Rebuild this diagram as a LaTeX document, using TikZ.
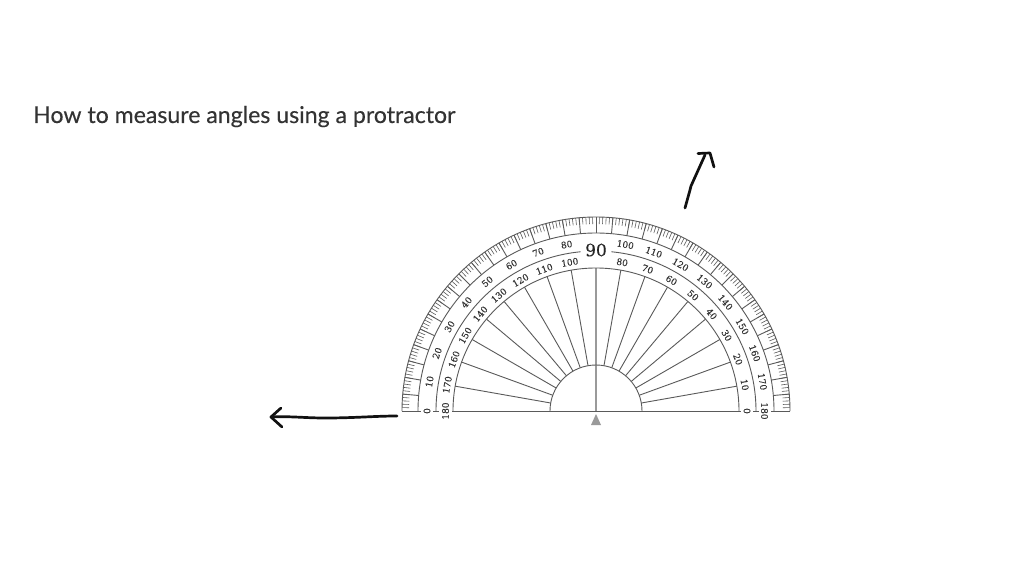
\documentclass[tikz,border=0pt]{standalone}
\usepackage{fontspec}
\setmainfont{Lato}[FakeBold=0.25]
\newfontfamily\scalefont{DejaVu Serif}[FakeBold=0.15]
\definecolor{rule}{HTML}{5A5A5A}
\definecolor{mid}{HTML}{9A9A9A}
\definecolor{ink}{HTML}{111111}
\definecolor{titleink}{HTML}{333333}
\tikzset{
  scaleline/.style={draw=rule,line width=0.9pt},
  tickline/.style={draw=rule,line width=0.6pt},
  deg/.style={font=\scalefont\fontsize{9}{10}\selectfont,text=black!80,inner sep=0.6pt},
  degend/.style={deg,fill=white,inner xsep=0.3pt,inner ysep=2.6pt},
  hand/.style={draw=ink,line width=2.7pt,line cap=round,line join=round},
}
\begin{document}
\begin{tikzpicture}[x=1pt,y=1pt]
\useasboundingbox (-596,-165) rectangle (428,411);
\fill[white] (-596,-165) rectangle (428,411);
% radial lines
\foreach \a in {10,20,...,170}{
  \ifnum\a=90\relax\else
    \draw[scaleline] (\a:46) -- (\a:143);
  \fi
}
\draw[draw=mid,line width=1.4pt] (0,0) -- (0,143);
% arcs
\draw[scaleline] (46pt,0pt) arc[start angle=0,end angle=180,radius=46pt];
\draw[scaleline] (143pt,0pt) arc[start angle=0,end angle=180,radius=143pt];
\draw[scaleline] (178pt,0pt) arc[start angle=0,end angle=180,radius=178pt];
\draw[scaleline] (194pt,0pt) arc[start angle=0,end angle=180,radius=194pt];
\draw[scaleline] (0:160) arc[start angle=0,end angle=84.5,radius=160pt];
\draw[scaleline] (95.5:160) arc[start angle=95.5,end angle=180,radius=160pt];
% ticks
\foreach \a in {1,...,179}{
  \draw[tickline] (\a:187) -- (\a:194);
}
\foreach \a in {5,10,...,175}{
  \draw[scaleline] (\a:178) -- (\a:194);
}
% baseline
\draw[scaleline] (-194,0) -- (194,0);
% labels
\foreach \v in {10,20,...,80,100,110,...,170}{
  \pgfmathsetmacro{\ang}{180-\v}
  \pgfmathsetmacro{\rot}{90-\v}
  \node[deg,rotate=\rot] (outer\v) at (\ang:169) {\v};
}
\foreach \v in {10,20,...,80,100,110,...,170}{
  \pgfmathsetmacro{\rot}{\v-90}
  \node[deg,rotate=\rot] (inner\v) at (\v:151) {\v};
}
\node[degend,rotate=90] (outerzero) at (180:169) {0};
\node[degend,rotate=90] (innerend) at (180:150.5) {180};
\node[degend,rotate=-90] (innerzero) at (0:151) {0};
\node[degend,rotate=-90] (outerend) at (0:168.5) {180};
\node[font=\scalefont\fontsize{17}{18}\selectfont,text=black!85,inner sep=0pt] (ninety) at (0,161) {90};
% pointer
\fill[mid] (-5,-14) -- (0,-3) -- (5,-14) -- cycle;
% hand drawn arrows and title, in page pixels
\begin{scope}[shift={(-596pt,411pt)},x=1pt,y=-1pt]
\node[anchor=base west,inner sep=0pt,text=titleink,font=\fontsize{23.1}{28}\selectfont] (title) at (33,123) {How to measure angles using a protractor};
\draw[hand] (397,416) .. controls (375,416) and (355,418) .. (325,418) .. controls (305,418) and (290,416) .. (271,417);
\draw[hand] (281,408) -- (271,417) -- (282,427);
\draw[hand] (685,208) -- (690,190) -- (691,186) -- (705,155);
\draw[hand] (698,153.5) -- (710,153) -- (714,167);
\end{scope}
\end{tikzpicture}
\end{document}
